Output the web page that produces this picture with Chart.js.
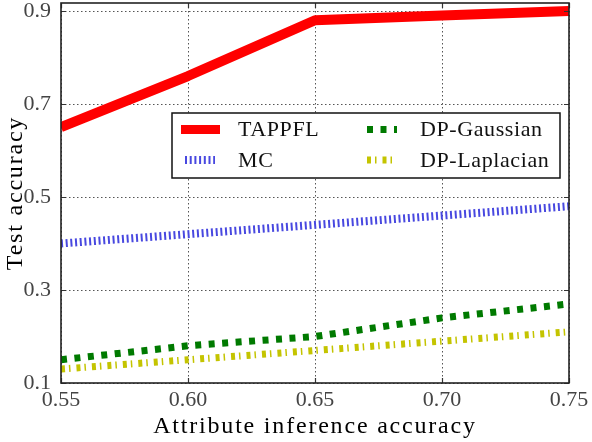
<!DOCTYPE html>
<html>
<head>
<meta charset="utf-8">
<script src="https://cdn.jsdelivr.net/npm/chart.js@4.4.0/dist/chart.umd.min.js"></script>
<style>
  html, body { margin: 0; padding: 0; background: #fff; }
  #wrap { width: 592px; height: 442px; position: relative; }
</style>
</head>
<body>
<div id="wrap"><canvas id="c"></canvas></div>
<script>
// ---- data ----
const xValues = [0.55, 0.60, 0.65, 0.70, 0.75];
const tappfl = [0.65, 0.76, 0.88, 0.89, 0.90];
const mc = [0.40, 0.42, 0.44, 0.46, 0.48];
const dpGaussian = [0.15, 0.18, 0.20, 0.24, 0.27];
const dpLaplacian = [0.13, 0.15, 0.17, 0.19, 0.21];
const seriesNames = ['TAPPFL', 'MC', 'DP-Gaussian', 'DP-Laplacian'];
const xTicks = [0.55, 0.60, 0.65, 0.70, 0.75];
const yTicks = [0.1, 0.3, 0.5, 0.7, 0.9];
const xTitle = 'Attribute inference accuracy';
const yTitle = 'Test accuracy';

const SERIF = '"Liberation Serif", "DejaVu Serif", serif';

function pts(vals) { return xValues.map((x, i) => ({ x: x, y: vals[i] })); }

const datasets = [
  { label: seriesNames[0], data: pts(tappfl), borderColor: '#ff0000', borderWidth: 10, borderDash: [], legendWidth: 9 },
  { label: seriesNames[1], data: pts(mc), borderColor: '#4848e0', borderWidth: 8, borderDash: [2, 2.7], legendWidth: 8 },
  { label: seriesNames[2], data: pts(dpGaussian), borderColor: '#007a00', borderWidth: 7, borderDash: [6, 7.5], legendWidth: 7 },
  { label: seriesNames[3], data: pts(dpLaplacian), borderColor: '#c4c400', borderWidth: 7, borderDash: [4, 4, 1.5, 6], legendWidth: 7 }
].map(d => Object.assign(d, { fill: false, pointRadius: 0, tension: 0, borderCapStyle: 'butt', borderJoinStyle: 'round' }));

// wider letter spacing for the axis titles (drawn in the grid layer, before datasets);
// tick labels are drawn in a later layer with normal spacing.
const spacingPlugin = {
  id: 'spacing',
  beforeDraw(chart) { chart.ctx.letterSpacing = '1.8px'; },
  beforeDatasetsDraw(chart) {
    const { ctx, chartArea: a, scales } = chart;
    ctx.letterSpacing = '0px';
    // dotted grid from the scales' tick positions
    ctx.save();
    ctx.strokeStyle = '#555';
    ctx.lineWidth = 1;
    ctx.setLineDash([1.5, 2.5]);
    ctx.beginPath();
    scales.x.ticks.forEach(t => {
      const x = Math.round(scales.x.getPixelForValue(t.value)) + 0.5;
      ctx.moveTo(x, a.top); ctx.lineTo(x, a.bottom);
    });
    scales.y.ticks.forEach(t => {
      const y = Math.round(scales.y.getPixelForValue(t.value)) + 0.5;
      ctx.moveTo(a.left, y); ctx.lineTo(a.right, y);
    });
    ctx.stroke();
    ctx.restore();
  }
};

const framePlugin = {
  id: 'frame',
  afterDatasetsDraw(chart) {
    const { ctx, chartArea: a, scales } = chart;
    ctx.save();
    // inward ticks
    ctx.strokeStyle = '#333';
    ctx.lineWidth = 1.2;
    ctx.setLineDash([]);
    ctx.beginPath();
    scales.y.ticks.forEach(t => {
      const y = Math.round(scales.y.getPixelForValue(t.value)) + 0.5;
      ctx.moveTo(a.left, y); ctx.lineTo(a.left + 5, y);
      ctx.moveTo(a.right, y); ctx.lineTo(a.right - 5, y);
    });
    scales.x.ticks.forEach(t => {
      const x = Math.round(scales.x.getPixelForValue(t.value)) + 0.5;
      ctx.moveTo(x, a.bottom); ctx.lineTo(x, a.bottom - 5);
      ctx.moveTo(x, a.top); ctx.lineTo(x, a.top + 5);
    });
    ctx.stroke();
    // frame
    ctx.strokeStyle = '#222';
    ctx.lineWidth = 1.6;
    ctx.strokeRect(a.left, a.top, a.right - a.left, a.bottom - a.top);

    // legend box
    const lx = a.left + 111, ly = 113, lw = a.right - 9 - lx, lh = 65;
    ctx.fillStyle = '#fff';
    ctx.fillRect(lx, ly, lw, lh);
    ctx.strokeStyle = '#111';
    ctx.lineWidth = 1.5;
    ctx.strokeRect(lx, ly, lw, lh);
    const cols = [lx + 9, lx + 191];
    const rows = [ly + 16.5, ly + 47];
    ctx.font = '22px ' + SERIF;
    ctx.letterSpacing = '0.6px';
    ctx.textBaseline = 'middle';
    ctx.textAlign = 'left';
    chart.data.datasets.forEach((ds, i) => {
      const col = cols[Math.floor(i / 2)], row = rows[i % 2];
      ctx.beginPath();
      ctx.strokeStyle = ds.borderColor;
      ctx.lineWidth = ds.legendWidth;
      ctx.lineCap = 'butt';
      ctx.setLineDash(ds.borderDash);
      const sx = i === 0 ? col : col + 4;
      const ex = i === 0 ? col + 39 : col + 34;
      ctx.moveTo(sx, row); ctx.lineTo(ex, row);
      ctx.stroke();
      ctx.setLineDash([]);
      ctx.fillStyle = '#111';
      ctx.fillText(ds.label, col + 57, row + 1);
    });
    ctx.restore();
  }
};

new Chart(document.getElementById('c'), {
  type: 'line',
  data: { datasets: datasets },
  options: {
    responsive: true,
    maintainAspectRatio: false,
    animation: false,
    layout: { padding: { left: 0, top: 3, right: 23, bottom: 0 } },
    plugins: { legend: { display: false }, tooltip: { enabled: false } },
    scales: {
      x: {
        type: 'linear', min: 0.55, max: 0.75,
        afterBuildTicks: s => { s.ticks = xTicks.map(v => ({ value: v })); },
        afterFit: s => { s.height = 59; s.paddingLeft = 0; s.paddingRight = 0; },
        ticks: { z: 1, color: '#444', font: { family: SERIF, size: 22 }, padding: 4, maxRotation: 0,
                 callback: v => v.toFixed(2) },
        grid: { display: false, drawTicks: false },
        border: { display: false },
        title: { display: true, text: xTitle, color: '#000', font: { family: SERIF, size: 24 }, padding: { top: 0, bottom: 1 } }
      },
      y: {
        type: 'linear', min: 0.1, max: 0.917,
        afterBuildTicks: s => { s.ticks = yTicks.map(v => ({ value: v })); },
        afterFit: s => { s.width = 61; s.paddingTop = 0; s.paddingBottom = 0; },
        ticks: { z: 1, color: '#444', font: { family: SERIF, size: 22 }, padding: 10,
                 callback: v => v.toFixed(1) },
        grid: { display: false, drawTicks: false },
        border: { display: false },
        title: { display: true, text: yTitle, color: '#000', font: { family: SERIF, size: 24 }, padding: { top: 1, bottom: 0 } }
      }
    }
  },
  plugins: [spacingPlugin, framePlugin]
});
</script>
</body>
</html>
